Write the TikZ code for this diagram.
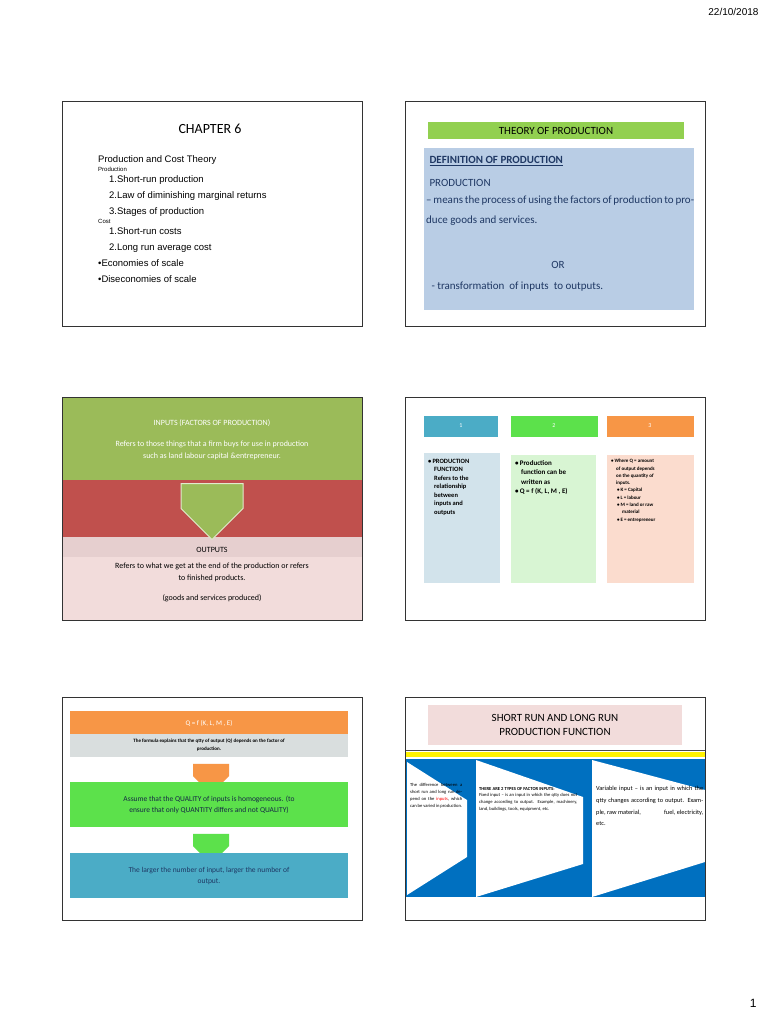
\documentclass[tikz,border=0pt]{standalone}
\usepackage{fontspec}
\setmainfont{Carlito}
\newfontfamily\arial{Liberation Sans}
\usetikzlibrary{shapes.arrows}
\definecolor{tgreen}{HTML}{92D050}
\definecolor{bgreen}{HTML}{9BBB59}
\definecolor{bred}{HTML}{C0504D}
\definecolor{bpink}{HTML}{E6CFCF}
\definecolor{lpink}{HTML}{F2DCDB}
\definecolor{lblue}{HTML}{B9CDE5}
\definecolor{cblue}{HTML}{4BACC6}
\definecolor{cgreen}{HTML}{5CE14B}
\definecolor{corange}{HTML}{F79646}
\definecolor{pblue}{HTML}{D2E3EB}
\definecolor{pgreen}{HTML}{D8F5D3}
\definecolor{porange}{HTML}{FBDCCE}
\definecolor{pgrey}{HTML}{D9DEDE}
\definecolor{dblue}{HTML}{0070C0}
\definecolor{tblue}{HTML}{1F3864}
\tikzset{slide/.style={draw=black!80,line width=1pt,fill=white},
 box/.style={inner sep=0pt,outer sep=0pt},
 txt/.style={align=center,inner sep=1pt}}
\begin{document}
\begin{tikzpicture}[x=1pt,y=-1pt]
\useasboundingbox (0,0) rectangle (768,1024);
\fill[white] (0,0) rectangle (768,1024);
\node[anchor=east,font=\arial\fontsize{10}{12}\selectfont] (date) at (762,12) {22/10/2018};
\node[anchor=east,font=\arial\fontsize{12}{14}\selectfont] (pg) at (760,1003) {1};
% slide 1
\draw[slide] (62,102) rectangle (362,326);
\node[font=\fontsize{14}{16}\selectfont] (ch) at (210,129) {CHAPTER 6};
\node[anchor=north west,align=left,inner sep=0pt,font=\arial\fontsize{9.5}{16}\selectfont] (list) at (98,155) {%
Production and Cost Theory\\[-7pt]
{\fontsize{6}{8}\selectfont Production}\\[-5pt]
\hspace{11pt}1.Short-run production\\
\hspace{11pt}2.Law of diminishing marginal returns\\
\hspace{11pt}3.Stages of production\\[-7pt]
{\fontsize{6}{8}\selectfont Cost}\\[-5pt]
\hspace{11pt}1.Short-run costs\\
\hspace{11pt}2.Long run average cost\\
•Economies of scale\\
•Diseconomies of scale};
% slide 2
\draw[slide] (405,102) rectangle (705,326);
\fill[tgreen] (428,122) rectangle (684,139);
\node[font=\fontsize{11}{13}\selectfont] (tp) at (556,131) {THEORY OF PRODUCTION};
\fill[lblue] (424,148) rectangle (694,310);
\node[anchor=west,font=\bfseries\fontsize{11}{13}\selectfont,text=tblue] (dp) at (426,161) {\underline{DEFINITION OF PRODUCTION}};
\node[anchor=west,font=\fontsize{11}{13}\selectfont,text=tblue] (pr) at (426,183) {PRODUCTION};
\node[anchor=north west,align=justify,text width=268pt,inner sep=0pt,font=\fontsize{11}{19.5}\selectfont,text=tblue] (mn) at (426,196) {– means the process of using the factors of production to produce goods and services.};
\node[font=\fontsize{11}{13}\selectfont,text=tblue] (or) at (558,265) {OR};
\node[anchor=west,font=\fontsize{11}{13}\selectfont,text=tblue] (tr) at (428,287) {- transformation \ of inputs \ to outputs.};
% slide 3
\draw[slide] (62,397) rectangle (362,620);
\fill[bgreen] (62,397) rectangle (362,480);
\fill[bred] (62,480) rectangle (362,537);
\fill[lpink] (62,537) rectangle (362,620);
\fill[bpink] (62,537) rectangle (362,557);
\draw[black!80,line width=1pt] (62,397) rectangle (362,620);
\node[font=\fontsize{8}{10}\selectfont,text=white] (in) at (212,423) {INPUTS (FACTORS OF PRODUCTION)};
\node[txt,font=\fontsize{8}{12}\selectfont,text=white] (inx) at (212,450) {Refers to those things that a firm buys for use in production\\such as land labour capital \&entrepreneur.};
\node[single arrow,shape border rotate=270,fill=bgreen,draw=white!70!bgreen,line width=1pt,minimum width=62pt,single arrow head extend=0pt,minimum height=50pt,inner sep=12pt] (ar) at (212,496) {};
\node[font=\fontsize{8}{10}\selectfont] (out) at (212,550) {OUTPUTS};
\node[txt,font=\fontsize{8}{12}\selectfont] (outx) at (212,572) {Refers to what we get at the end of the production or refers\\to finished products.};
\node[font=\fontsize{8}{10}\selectfont] (gs) at (212,598) {(goods and services produced)};
% slide 4
\draw[slide] (405,397) rectangle (705,620);
\fill[cblue] (424,416) rectangle (498,437);
\fill[cgreen] (511,416) rectangle (598,437);
\fill[corange] (607,416) rectangle (694,437);
\node[text=white,font=\fontsize{6}{8}\selectfont] (h1) at (461,426) {1};
\node[text=white,font=\fontsize{6}{8}\selectfont] (h2) at (554,426) {2};
\node[text=white,font=\fontsize{6}{8}\selectfont] (h3) at (650,426) {3};
\fill[pblue] (424,453) rectangle (500,583);
\fill[pgreen] (511,455) rectangle (596,583);
\fill[porange] (607,455) rectangle (694,583);
\node[anchor=north west,align=left,inner sep=0pt,font=\bfseries\fontsize{6.5}{8.5}\selectfont] (b1) at (428,459) {•\,PRODUCTION\\\hspace{6pt}FUNCTION\\\hspace{6pt}Refers to the\\\hspace{6pt}relationship\\\hspace{6pt}between\\\hspace{6pt}inputs and\\\hspace{6pt}outputs};
\node[anchor=north west,align=left,inner sep=0pt,font=\bfseries\fontsize{7}{9.5}\selectfont] (b2) at (515,460) {•\,Production\\\hspace{6pt}function can be\\\hspace{6pt}written as\\•\,Q = f (K, L, M , E)};
\node[anchor=north west,align=left,inner sep=0pt,font=\bfseries\fontsize{5}{7.3}\selectfont] (b3) at (611,459) {•\,Where Q = amount\\\hspace{5pt}of output depends\\\hspace{5pt}on the quantity of\\\hspace{5pt}inputs.\\\hspace{6pt}•\,K = Capital\\\hspace{6pt}•\,L = labour\\\hspace{6pt}•\,M = land or raw\\\hspace{11pt}material\\\hspace{6pt}•\,E = entrepreneur};
% slide 5
\draw[slide] (62,697) rectangle (362,920);
\fill[corange] (70,711) rectangle (348,734);
\node[text=white,font=\fontsize{7}{9}\selectfont] (q) at (209,723) {Q = f (K, L, M , E)};
\fill[pgrey] (70,734) rectangle (348,757);
\node[txt,font=\bfseries\fontsize{5}{7.5}\selectfont] (fx) at (209,745) {The formula explains that the qtty of output (Q) depends on the factor of\\production.};
\node[single arrow,shape border rotate=270,fill=corange,minimum width=36pt,single arrow head extend=0pt,minimum height=26pt,inner sep=6pt] (a1) at (211,770) {};
\fill[cgreen] (70,782) rectangle (348,827);
\node[txt,font=\fontsize{7.5}{11}\selectfont,text=tblue!70!black] (as) at (209,805) {Assume that the QUALITY of inputs is homogeneous. (to\\ensure that only QUANTITY differs and not QUALITY)};
\node[single arrow,shape border rotate=270,fill=cgreen,minimum width=36pt,single arrow head extend=0pt,minimum height=26pt,inner sep=6pt] (a2) at (211,840) {};
\fill[cblue] (70,853) rectangle (348,898);
\node[txt,font=\fontsize{7.5}{11}\selectfont,text=tblue] (lg) at (209,876) {The larger the number of input, larger the number of\\output.};
% slide 6
\draw[slide] (405,697) rectangle (705,920);
\fill[lpink] (428,705) rectangle (682,745);
\node[txt,font=\fontsize{11}{14}\selectfont] (st) at (555,725) {SHORT RUN AND LONG RUN\\PRODUCTION FUNCTION};
\draw[black!70,line width=0.5pt] (405,750) -- (705,750);
\fill[yellow] (405,752) rectangle (705,757);
\fill[dblue] (405,759) rectangle (705,897);
\fill[white] (407,762) -- (467,800) -- (467,857) -- (407,895) -- cycle;
\fill[white] (476,760) -- (583,797) -- (583,864) -- (476,897) -- cycle;
\fill[white] (592,760) -- (705,790) -- (705,862) -- (592,897) -- cycle;
\draw[black!80,line width=1pt] (405,697) rectangle (705,920);
\node[anchor=north west,align=justify,text width=52pt,inner sep=0pt,font=\fontsize{4.6}{7}\selectfont] (p1) at (410,783) {The difference between a short run and long run depend on the {\color{red}inputs}, which can be varied in production.};
\node[anchor=north west,align=justify,text width=98pt,inner sep=0pt,font=\fontsize{4.6}{6.7}\selectfont] (p2) at (479,787) {\textbf{THERE ARE 2 TYPES OF FACTOR INPUTS:}\\ Fixed input – is an input in which the qtty does not change according to output. Example, machinery, land, buildings, tools, equipment, etc.};
\node[anchor=north west,align=justify,text width=107pt,inner sep=0pt,font=\fontsize{6.3}{11.8}\selectfont] (p3) at (596,786) {Variable input – is an input in which the qtty changes according to output. Example, raw material,\hfill fuel, electricity, etc.};
\end{tikzpicture}
\end{document}
